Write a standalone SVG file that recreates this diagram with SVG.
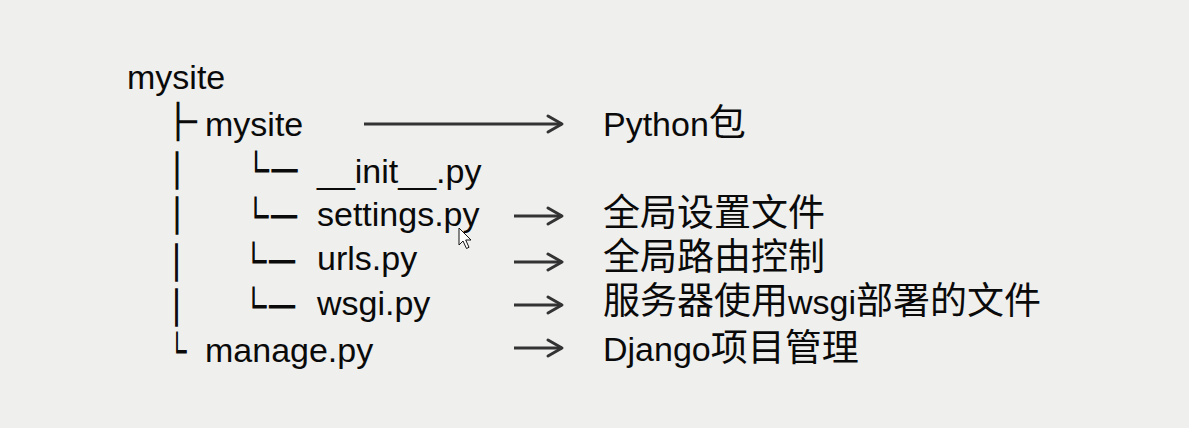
<svg xmlns="http://www.w3.org/2000/svg" width="1189" height="428" viewBox="0 0 1189 428">
<style>
.t { font-family: "Liberation Sans", "Noto Sans CJK SC", sans-serif; font-size: 34px; fill: #0a0a0a; }
.cjk { font-family: "Noto Sans CJK SC", sans-serif; font-size: 37px; }
.box { font-family: "Noto Sans CJK SC", sans-serif; font-size: 37px; fill: #0a0a0a; stroke: #0a0a0a; stroke-width: 1.3px; }
.arrow { stroke: #333333; stroke-width: 3; fill: none; marker-end: url(#ah); }
</style>
<defs>
<marker id="ah" markerUnits="userSpaceOnUse" markerWidth="24" markerHeight="24" refX="18" refY="12" orient="auto" overflow="visible">
<path d="M4,4 L18,12 L4,20" fill="none" stroke="#333333" stroke-width="3" stroke-linejoin="round" stroke-linecap="round"/>
</marker>
</defs>
<rect x="0" y="0" width="1189" height="428" fill="#efefee"/>

<g id="root">
<text class="t" x="127" y="89">mysite</text>
</g>

<g id="pkg-mysite">
<text class="box" x="159.5" y="135.6">├</text>
<text class="t" x="205" y="136">mysite</text>
</g>

<g id="file-init">
<text class="box" x="158.5" y="184.6">│</text>
<text class="box" transform="translate(243.5,184.6) scale(0.678,1)" style="stroke-width:1.8px">└<tspan dx="5">─</tspan></text>
<text class="t" x="317" y="183">__init__.py</text>
</g>

<g id="file-settings">
<text class="box" x="158.5" y="229.6">│</text>
<text class="box" transform="translate(243,230.6) scale(0.678,1)" style="stroke-width:1.8px">└<tspan dx="5">─</tspan></text>
<text class="t" x="317" y="226">settings.py</text>
</g>

<g id="file-urls">
<text class="box" x="158" y="276.6">│</text>
<text class="box" transform="translate(241,275.6) scale(0.678,1)" style="stroke-width:1.8px">└<tspan dx="5">─</tspan></text>
<text class="t" x="317" y="270">urls.py</text>
</g>

<g id="file-wsgi">
<text class="box" x="158" y="321.6">│</text>
<text class="box" transform="translate(241,320.6) scale(0.678,1)" style="stroke-width:1.8px">└<tspan dx="5">─</tspan></text>
<text class="t" x="317" y="315">wsgi.py</text>
</g>

<g id="file-manage">
<text class="box" transform="translate(167.75,365.6) scale(0.5,1)" style="stroke-width:2px">└</text>
<text class="t" x="205" y="362">manage.py</text>
</g>

<g id="label-python">
<text class="t" x="603" y="136">Python<tspan class="cjk">包</tspan></text>
</g>
<g id="label-settings">
<text class="t cjk" x="603" y="226">全局设置文件</text>
</g>
<g id="label-urls">
<text class="t cjk" x="603" y="270">全局路由控制</text>
</g>
<g id="label-wsgi">
<text class="t" x="603" y="314"><tspan class="cjk">服务器使用</tspan>wsgi<tspan class="cjk">部署的文件</tspan></text>
</g>
<g id="label-manage">
<text class="t" x="603" y="361">Django<tspan class="cjk">项目管理</tspan></text>
</g>

<g id="connectors">
<line class="arrow" x1="364" y1="124" x2="562" y2="124"/>
<line class="arrow" x1="514" y1="216" x2="562" y2="216"/>
<line class="arrow" x1="514" y1="262" x2="562" y2="262"/>
<line class="arrow" x1="514" y1="305" x2="562" y2="305"/>
<line class="arrow" x1="514" y1="348" x2="562" y2="348"/>
</g>

<g id="cursor">
<path d="M459,228 L459,245 L463,241 L466.5,248.5 L469,247.3 L465.7,240 L471,240 Z" fill="#ffffff" stroke="#111111" stroke-width="1" stroke-linejoin="round"/>
</g>
</svg>
